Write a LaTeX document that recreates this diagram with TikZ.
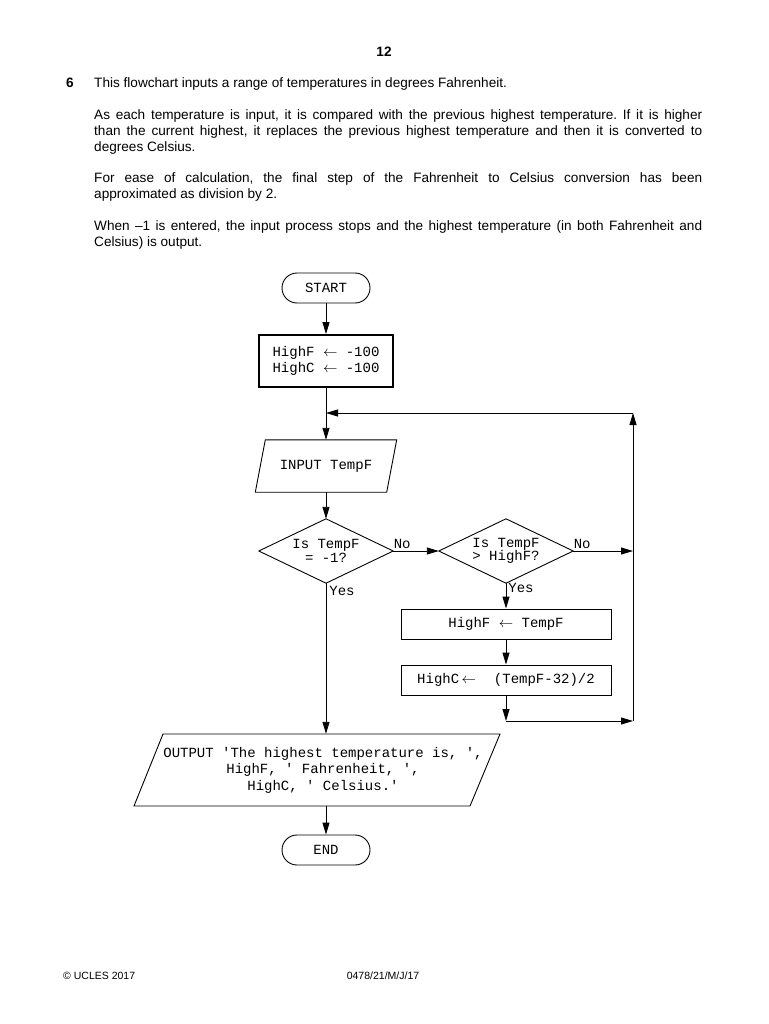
\documentclass[tikz,border=0pt]{standalone}
\usepackage{fontspec}
\setmainfont{Liberation Sans}
\newfontfamily\cour{Liberation Mono}
\usetikzlibrary{arrows.meta,calc}
\frenchspacing
\begin{document}
\begin{tikzpicture}[x=1pt,y=-1pt,
  line/.style={line width=0.9pt},
  arr/.style={line width=0.9pt,-{Triangle[length=12pt,width=7pt]}},
  cf/.style={font=\cour\fontsize{14}{16.5}\selectfont},
  cfd/.style={font=\cour\fontsize{14}{13.5}\selectfont},
  body/.style={anchor=base west,inner sep=0pt,font=\fontsize{13.6}{16}\selectfont},
  term/.style={cf,draw,line width=0.9pt,rounded corners=15pt,minimum width=88pt,minimum height=30pt,inner sep=0pt},
  procbox/.style={cf,draw,line width=0.9pt,minimum width=210pt,minimum height=30pt,inner sep=0pt},
  lbl/.style={cf,inner sep=0pt}
]
\useasboundingbox[fill=white] (0,0) rectangle (768,1024);

% header text
\node[font=\fontsize{13.6}{16}\selectfont\bfseries] (pg) at (384,52) {12};
\node[body,font=\fontsize{13.6}{16}\selectfont\bfseries] (q6) at (66,87.5) {6};
\node[body] (t1) at (94,87.5) {This flowchart inputs a range of temperatures in degrees Fahrenheit.};
\node[body] (t2) at (94,119.5) {\makebox[608pt][s]{As each temperature is input, it is compared with the previous highest temperature. If it is higher}};
\node[body] (t3) at (94,135.5) {\makebox[608pt][s]{than the current highest, it replaces the previous highest temperature and then it is converted to}};
\node[body] (t4) at (94,151.5) {degrees Celsius.};
\node[body] (t5) at (94,182.5) {\makebox[608pt][s]{For ease of calculation, the final step of the Fahrenheit to Celsius conversion has been}};
\node[body] (t6) at (94,198.5) {approximated as division by 2.};
\node[body] (t7) at (94,230.5) {\makebox[608pt][s]{When –1 is entered, the input process stops and the highest temperature (in both Fahrenheit and}};
\node[body] (t8) at (94,246.5) {Celsius) is output.};

% footer
\node[anchor=base west,inner sep=0pt,font=\fontsize{10.5}{12}\selectfont] (f1) at (63,979) {© UCLES 2017};
\node[anchor=base,inner sep=0pt,font=\fontsize{10.5}{12}\selectfont] (f2) at (383,979) {0478/21/M/J/17};

% flowchart nodes
\node[term] (start) at (326,288) {START};
\node[cf,draw,line width=1.8pt,minimum width=134pt,minimum height=52pt,align=center,inner sep=0pt] (init) at (326,361) {HighF $\leftarrow$ -100\\HighC $\leftarrow$ -100};

\node[cf,minimum width=141pt,minimum height=52pt,inner sep=0pt] (inp) at (326,466) {INPUT TempF};
\draw[line] (inp.south west) -- ($(inp.south east)+(-10,0)$) -- (inp.north east) -- ($(inp.north west)+(10,0)$) -- cycle;

\node[cfd,minimum width=134pt,minimum height=64pt,inner sep=0pt,align=center] (d1) at (326,551) {Is TempF\\= -1?};
\draw[line] (d1.north) -- (d1.east) -- (d1.south) -- (d1.west) -- cycle;

\node[cfd,minimum width=134pt,minimum height=64pt,inner sep=0pt,align=center] (d2) at (506,551) {Is TempF\\> HighF?};
\draw[line] (d2.north) -- (d2.east) -- (d2.south) -- (d2.west) -- cycle;

\node[procbox] (b1) at (506,624) {HighF $\leftarrow$ TempF};
\node[procbox] (b2) at (506,680) {HighC\,$\leftarrow$\hspace{18pt}(TempF-32)/2};

\node[cf,align=center,minimum height=72pt,inner sep=0pt] (out) at (323,770) {OUTPUT 'The highest temperature is, ',\\HighF, ' Fahrenheit, ',\\HighC, ' Celsius.'};
\draw[line] ($(out.center)+(-160,-36)$) -- ($(out.center)+(177,-36)$) -- ($(out.center)+(147,36)$) -- ($(out.center)+(-189,36)$) -- cycle;

\node[term] (end) at (326,850) {END};

\coordinate (rt) at (633,413);
\coordinate (rb) at (633,721);

% connectors
\draw[arr] (start) -- (init);
\draw[arr] (init.south) -- (inp.north);
\draw[arr] (rb) -- (rt);
\draw[arr] (rt) -- (rt -| init.south);
\draw[arr] (inp.south) -- (d1.north);
\draw[arr] (d1.east) -- (d2.west);
\draw[arr] (d2.east) -- (d2.east -| rt);
\draw[arr] (d2.south) -- (b1.north);
\draw[arr] (b1) -- (b2);
\draw[arr] (b2.south) -- (b2.south |- rb);
\draw[arr] (b2.south |- rb) -- (rb);
\draw[arr] (d1.south) -- (d1.south |- out.north);
\draw[arr] (end.north |- out.south) -- (end.north);

% labels
\node[lbl] (no1) at ($(d1.east)+(9,-7)$) {No};
\node[lbl] (no2) at ($(d2.east)+(9,-7)$) {No};
\node[lbl] (yes1) at ($(d1.south)+(16,8)$) {Yes};
\node[lbl] (yes2) at ($(d2.south)+(15,5)$) {Yes};
\end{tikzpicture}
\end{document}
